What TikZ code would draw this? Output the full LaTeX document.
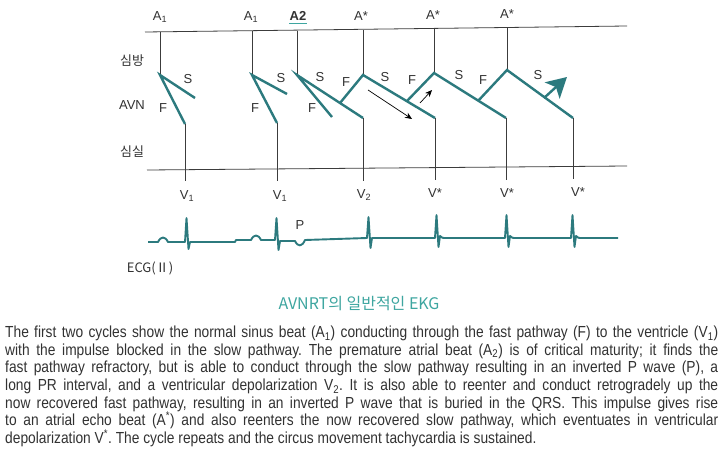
\documentclass[tikz,border=0pt]{standalone}
\usepackage{fontspec}
\setmainfont{Liberation Sans}
\newfontfamily\kr{Noto Sans CJK KR}
\newfontfamily\narrowtext[FakeStretch=0.86]{Liberation Sans}
\usetikzlibrary{arrows.meta}
\definecolor{pathteal}{RGB}{44,122,126}
\definecolor{titleteal}{RGB}{62,166,160}
\definecolor{guidegray}{RGB}{60,60,60}
\definecolor{inkgray}{RGB}{50,50,50}

\begin{document}
\begin{tikzpicture}[x=1pt,y=-1pt,
	guide/.style={guidegray,line width=0.8pt},
	pathway/.style={pathteal,line width=2.4pt},
	ecgline/.style={pathteal,line width=1.9pt,line join=round},
	lbl/.style={inkgray,inner sep=0pt,font=\fontsize{13}{13}\selectfont},
	krlbl/.style={inkgray,inner sep=0pt,font=\kr\fontsize{13}{13}\selectfont},
	thinarrow/.style={black,line width=0.7pt,-{Stealth[length=7pt,width=6pt]}}]
	\useasboundingbox (0,0) rectangle (723,455);
	\fill[white] (0,0) rectangle (723,455);

%frame
	\coordinate (tl) at (145,32); \coordinate (tr) at (627,26);
	\coordinate (bl) at (147,170); \coordinate (br) at (627,166);
	\draw[guide] (tl)--(tr);
	\draw[guide] (bl)--(br);

%columns: top, junction, end of branch, ventricle, bottom
	\coordinate (t1) at (160,32); \coordinate (j1) at (160,75); \coordinate (b1) at (195,98);
	\coordinate (v1) at (185,124); \coordinate (e1) at (185,181);
	\coordinate (t2) at (252,31); \coordinate (j2) at (252,75); \coordinate (b2) at (287,94);
	\coordinate (v2) at (277,123); \coordinate (e2) at (277,181);
	\coordinate (t3) at (297,31); \coordinate (j3) at (297,75); \coordinate (b3) at (332,117);
	\coordinate (v3) at (363,118); \coordinate (e3) at (363,181);
	\coordinate (t4) at (363,30); \coordinate (j4) at (363,75); \coordinate (b4) at (340,103);
	\coordinate (v4) at (435,118); \coordinate (e4) at (435,180);
	\coordinate (t5) at (434,28); \coordinate (j5) at (434,73); \coordinate (b5) at (407,101);
	\coordinate (v5) at (506,118); \coordinate (e5) at (506,180);
	\coordinate (t6) at (507,27); \coordinate (j6) at (507,70); \coordinate (b6) at (478,101);
	\coordinate (v6) at (573,118); \coordinate (e6) at (573,179);

	\foreach \c in {1,...,6}
	{\draw[guide] (t\c)--(j\c);
	 \draw[guide] (v\c)--(e\c);
	 \draw[pathway] (b\c)--(j\c)--(v\c);}

%arrows
	\coordinate (p1) at (368,90); \coordinate (p2) at (412,119);
	\coordinate (q1) at (420,103); \coordinate (q2) at (432,90);
	\coordinate (r1) at (544,98); \coordinate (r2) at (567,77);
	\draw[thinarrow] (p1)--(p2);
	\draw[thinarrow] (q1)--(q2);
	\draw[pathteal,line width=2.4pt,-{Stealth[length=20pt,width=22pt,inset=5pt]}] (r1)--(r2);

%pathway labels
	\node[lbl] (s1) at (188,79) {S};  \node[lbl] (f1) at (163,108) {F};
	\node[lbl] (s2) at (281,78) {S};  \node[lbl] (f2) at (255,108) {F};
	\node[lbl] (s3) at (320,77) {S};  \node[lbl] (f3) at (312,108) {F};
	\node[lbl] (f4) at (346,82) {F};  \node[lbl] (s4) at (385,77) {S};
	\node[lbl] (f5) at (412,80) {F};  \node[lbl] (s5) at (459,75) {S};
	\node[lbl] (f6) at (483,80) {F};  \node[lbl] (s6) at (538,75) {S};

%top and bottom labels
	\node[lbl] (atop1) at (160,17) {A\textsubscript{1}};
	\node[lbl] (atop2) at (251,17) {A\textsubscript{1}};
	\node[lbl,font=\bfseries\fontsize{13}{13}\selectfont] (atop3) at (298,16) {A2};
	\draw[titleteal,line width=1.3pt] ([yshift=-3pt]atop3.base west)--([yshift=-3pt]atop3.base east);
	\node[lbl] (atop4) at (361,16) {A*};
	\node[lbl] (atop5) at (433,15) {A*};
	\node[lbl] (atop6) at (507,14) {A*};
	\node[lbl] (vbot1) at (187,196) {V\textsubscript{1}};
	\node[lbl] (vbot2) at (280,196) {V\textsubscript{1}};
	\node[lbl] (vbot3) at (364,195) {V\textsubscript{2}};
	\node[lbl] (vbot4) at (435,193) {V*};
	\node[lbl] (vbot5) at (507,193) {V*};
	\node[lbl] (vbot6) at (578,192) {V*};

%side labels
	\node[krlbl] (atrium) at (132,61) {심방};
	\node[lbl] (avn) at (132,105) {AVN};
	\node[krlbl] (ventricle) at (132,152) {심실};
	\node[krlbl] (lead) at (150,268) {ECG(Ⅱ)};
	\node[lbl] (pwave) at (300,225) {P};

%ecg
	\draw[ecgline] (148,242)--(158,242) .. controls (161,236) and (165,236) .. (168,242)
		--(185,242)--(186.5,218)--(188.5,249)--(190,242)--(235,242)--(236,240)
		--(251,240) .. controls (254,234) and (258,234) .. (261,240)
		--(275,240)--(276.5,218)--(278.5,250)--(280,241)--(295,241)
		.. controls (298,247) and (302,247) .. (305,240)
		--(367,238)--(368.5,217)--(370.5,248)--(372,238)
		--(435,238)--(436.5,215)--(438.5,247)--(440,236) .. controls (442,238) .. (447,238)
		--(505,238)--(506.5,215)--(508.5,247)--(510,236) .. controls (512,238) .. (517,238)
		--(571,238)--(572.5,215)--(574.5,247)--(576,236) .. controls (578,238) .. (583,238)
		--(618,238);

%caption
	\node[titleteal,inner sep=0pt,font=\kr\fontsize{16}{16}\selectfont] (title) at (359,304) {AVNRT의 일반적인 EKG};
	\node[inkgray,anchor=north west,inner sep=0pt,text width=713pt,align=justify,
		font=\narrowtext\fontsize{16}{17.6}\selectfont\frenchspacing] (para) at (5,326) {The first two cycles show the normal sinus beat (A\textsubscript{1}) conducting through the fast pathway (F) to the ventricle (V\textsubscript{1})\linebreak
		with the impulse blocked in the slow pathway. The premature atrial beat (A\textsubscript{2}) is of critical maturity; it finds the\linebreak
		fast pathway refractory, but is able to conduct through the slow pathway resulting in an inverted P wave (P),~a\linebreak
		long PR interval, and a ventricular depolarization V\textsubscript{2}. It is also able to reenter and conduct retrogradely up the\linebreak
		now recovered fast pathway, resulting in an inverted P wave that is buried in the QRS. This impulse gives rise\linebreak
		to an atrial echo beat (A\textsuperscript{*}) and also reenters the now recovered slow pathway, which eventuates in ventricular\linebreak
		depolarization V\textsuperscript{*}. The cycle repeats and the circus movement tachycardia is sustained.};
\end{tikzpicture}
\end{document}
